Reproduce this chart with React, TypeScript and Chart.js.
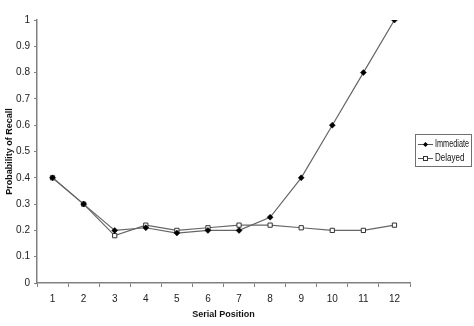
import React, { useEffect, useRef } from "react";
import { Chart, registerables } from "chart.js";

Chart.register(...registerables);

const categories = ["1", "2", "3", "4", "5", "6", "7", "8", "9", "10", "11", "12"];
const immediate = [0.4, 0.3, 0.2, 0.21, 0.19, 0.2, 0.2, 0.25, 0.4, 0.6, 0.8, 1.0];
const delayed = [0.4, 0.3, 0.18, 0.22, 0.2, 0.21, 0.22, 0.22, 0.21, 0.2, 0.2, 0.22];
const seriesNames = ["Immediate", "Delayed"];

const FONT = "'Liberation Sans', Arial, sans-serif";

const legendPlugin = {
  id: "boxLegend",
  afterDraw(chart: any) {
    const ctx = chart.ctx;
    const x0 = 415, y0 = 134, w = 56, h = 32;
    ctx.save();
    ctx.strokeStyle = "#707070";
    ctx.lineWidth = 1;
    ctx.strokeRect(x0 + 0.5, y0 + 0.5, w, h);
    const rows = [y0 + 10, y0 + 24];
    chart.data.datasets.forEach((ds: any, i: number) => {
      const y = rows[i] + 0.5;
      ctx.strokeStyle = "#555";
      ctx.beginPath();
      ctx.moveTo(x0 + 3, y);
      ctx.lineTo(x0 + 18, y);
      ctx.stroke();
      const cx = x0 + 10.5;
      if (i === 0) {
        ctx.fillStyle = "#000";
        ctx.beginPath();
        ctx.moveTo(cx, y - 2.5);
        ctx.lineTo(cx + 2.5, y);
        ctx.lineTo(cx, y + 2.5);
        ctx.lineTo(cx - 2.5, y);
        ctx.closePath();
        ctx.fill();
      } else {
        ctx.fillStyle = "#fff";
        ctx.fillRect(cx - 2, y - 2, 4, 4);
        ctx.strokeStyle = "#333";
        ctx.strokeRect(cx - 2, y - 2, 4, 4);
      }
      ctx.fillStyle = "#111";
      ctx.font = `10px ${FONT}`;
      ctx.textBaseline = "middle";
      ctx.textAlign = "left";
      const tw = Math.min(ctx.measureText(ds.label).width * 0.8, 34);
      ctx.fillText(ds.label, x0 + 20, y, tw);
    });
    ctx.restore();
  },
};

export default function App() {
  const ref = useRef<HTMLCanvasElement>(null);
  useEffect(() => {
    if (!ref.current) return;
    const chart = new Chart(ref.current, {
      type: "line",
      data: {
        labels: categories,
        datasets: [
          {
            label: seriesNames[0],
            data: immediate,
            borderColor: "#666",
            borderWidth: 1.2,
            pointStyle: "rectRot",
            pointRadius: 3,
            pointBackgroundColor: "#000",
            pointBorderColor: "#000",
            pointBorderWidth: 0.5,
            tension: 0,
          },
          {
            label: seriesNames[1],
            data: delayed,
            borderColor: "#666",
            borderWidth: 1.2,
            pointStyle: "rect",
            pointRadius: 3,
            pointBackgroundColor: "#fff",
            pointBorderColor: "#333",
            pointBorderWidth: 1,
            tension: 0,
          },
        ],
      },
      options: {
        animation: false,
        responsive: false,
        maintainAspectRatio: false,
        layout: { padding: { left: 0, right: 64, top: 20, bottom: 0 } },
        plugins: { legend: { display: false }, tooltip: { enabled: false } },
        scales: {
          x: {
            type: "category",
            offset: true,
            afterFit(scale: any) {
              scale.height = 43;
            },
            grid: {
              display: true,
              offset: true,
              drawOnChartArea: false,
              drawTicks: true,
              tickLength: 4,
              color: "#808080",
            },
            border: { display: true, color: "#808080", width: 1.5 },
            ticks: { color: "#222", font: { family: FONT, size: 10 }, padding: 6 },
            title: {
              display: true,
              text: "Serial Position",
              color: "#111",
              font: { family: FONT, size: 9, weight: "bold" },
              padding: { top: 0, bottom: 6 },
            },
          },
          y: {
            min: 0,
            max: 1,
            afterFit(scale: any) {
              scale.width = 37;
            },
            grid: {
              display: true,
              drawOnChartArea: false,
              drawTicks: true,
              tickLength: 3,
              color: "#808080",
            },
            border: { display: true, color: "#808080", width: 1.5 },
            ticks: {
              stepSize: 0.1,
              color: "#222",
              font: { family: FONT, size: 10 },
              padding: 4,
              callback: (v: any) => String(Math.round(Number(v) * 10) / 10),
            },
            title: {
              display: true,
              text: "Probability of Recall",
              color: "#111",
              font: { family: FONT, size: 9, weight: "bold" },
              padding: { top: 4, bottom: 0 },
            },
          },
        },
      },
      plugins: [legendPlugin],
    } as any);
    return () => chart.destroy();
  }, []);
  return (
    <div style={{ position: "fixed", left: 0, top: 0, width: 474, height: 326, background: "#fff" }}>
      <canvas ref={ref} width={474} height={326} style={{ display: "block" }} />
    </div>
  );
}
